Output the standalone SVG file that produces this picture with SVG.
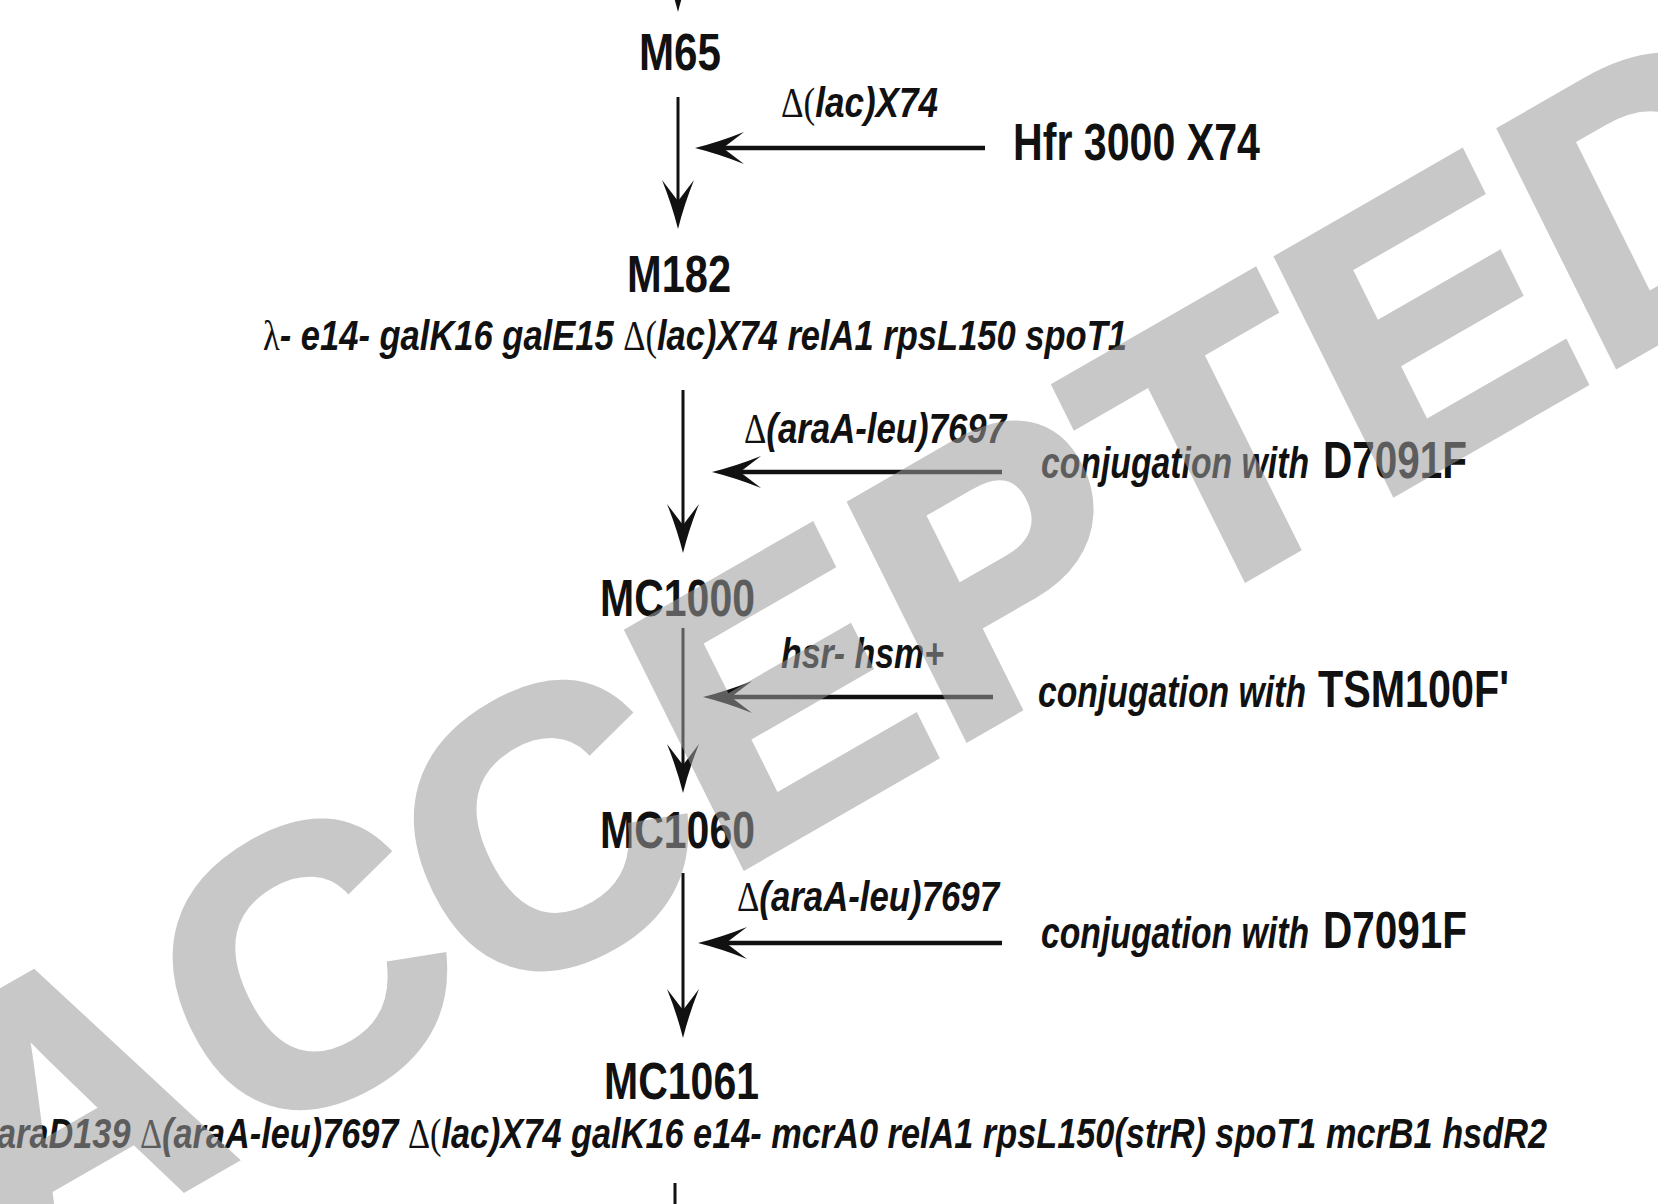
<svg xmlns="http://www.w3.org/2000/svg" width="1658" height="1204" viewBox="0 0 1658 1204">
<style>
.t{font-family:"Liberation Sans",Arial,sans-serif;font-weight:bold;fill:#111}
.i{font-style:italic}
.big{font-size:51px}
.lab{font-size:42px}
.conj{font-size:44px}
.sym{font-family:"Liberation Serif","Times New Roman",serif;font-style:normal;font-weight:normal}
.v{stroke:#111;stroke-width:3;fill:none}
.h{stroke:#111;stroke-width:4.3;fill:none}
.wm{font-family:"Liberation Sans",Arial,sans-serif;font-weight:bold;font-size:100px;fill:#9c9c9c;stroke:#9c9c9c;stroke-width:2.6;stroke-linejoin:miter;opacity:0.55}
</style>
<defs>
<marker id="ah" viewBox="-55 -20 60 40" refX="-28" refY="0" markerWidth="60" markerHeight="40" markerUnits="userSpaceOnUse" orient="auto" overflow="visible">
<path d="M0,0 Q-24,-6 -49,-16 L-28,0 L-49,16 Q-24,6 0,0 Z" fill="#111"/>
</marker>
</defs>
<rect width="1658" height="1204" fill="#fff"/>

<g id="connectors">
<line class="v" x1="678" y1="-60" x2="678" y2="-16" marker-end="url(#ah)"/>
<line class="v" x1="678" y1="97" x2="678" y2="201" marker-end="url(#ah)"/>
<line class="h" x1="985" y1="148" x2="723" y2="148" marker-end="url(#ah)"/>
<line class="v" x1="683" y1="390" x2="683" y2="525" marker-end="url(#ah)"/>
<line class="h" x1="1002" y1="472" x2="740" y2="472" marker-end="url(#ah)"/>
<line class="v" x1="683" y1="628" x2="683" y2="765" marker-end="url(#ah)"/>
<line class="h" x1="993" y1="697" x2="731" y2="697" marker-end="url(#ah)"/>
<line class="v" x1="683" y1="873" x2="683" y2="1010" marker-end="url(#ah)"/>
<line class="h" x1="1002" y1="943" x2="726" y2="943" marker-end="url(#ah)"/>
<line class="v" x1="675" y1="1183" x2="675" y2="1210"/>
</g>

<g id="edge-labels">
<text class="t i lab" x="781" y="117" textLength="157" lengthAdjust="spacingAndGlyphs"><tspan class="sym">Δ(</tspan>lac)X74</text>
<text class="t i lab" x="744" y="443" textLength="262" lengthAdjust="spacingAndGlyphs"><tspan class="sym">Δ</tspan>(araA-leu)7697</text>
<text class="t i lab" x="781" y="668" textLength="163" lengthAdjust="spacingAndGlyphs">hsr- hsm+</text>
<text class="t i lab" x="737" y="911" textLength="262" lengthAdjust="spacingAndGlyphs"><tspan class="sym">Δ</tspan>(araA-leu)7697</text>
</g>

<g id="node-M65">
<text class="t big" x="639" y="70" textLength="82" lengthAdjust="spacingAndGlyphs">M65</text>
</g>
<g id="node-Hfr3000X74">
<text class="t big" x="1013" y="160" textLength="247" lengthAdjust="spacingAndGlyphs">Hfr 3000 X74</text>
</g>
<g id="node-M182">
<text class="t big" x="627" y="292" textLength="104" lengthAdjust="spacingAndGlyphs">M182</text>
<text class="t i lab" x="263" y="350" textLength="864" lengthAdjust="spacingAndGlyphs"><tspan class="sym">λ</tspan>- e14- galK16 galE15 <tspan class="sym">Δ(</tspan>lac)X74 relA1 rpsL150 spoT1</text>
</g>
<g id="node-D7091F-1">
<text class="t i conj" x="1041" y="478" textLength="268" lengthAdjust="spacingAndGlyphs">conjugation with</text>
<text class="t big" x="1323" y="478" textLength="144" lengthAdjust="spacingAndGlyphs">D7091F</text>
</g>
<g id="node-MC1000">
<text class="t big" x="600" y="616" textLength="155" lengthAdjust="spacingAndGlyphs">MC1000</text>
</g>
<g id="node-TSM100F">
<text class="t i conj" x="1038" y="707" textLength="268" lengthAdjust="spacingAndGlyphs">conjugation with</text>
<text class="t big" x="1318" y="707" textLength="191" lengthAdjust="spacingAndGlyphs">TSM100F'</text>
</g>
<g id="node-MC1060">
<text class="t big" x="600" y="848" textLength="155" lengthAdjust="spacingAndGlyphs">MC1060</text>
</g>
<g id="node-D7091F-2">
<text class="t i conj" x="1041" y="948" textLength="268" lengthAdjust="spacingAndGlyphs">conjugation with</text>
<text class="t big" x="1323" y="948" textLength="144" lengthAdjust="spacingAndGlyphs">D7091F</text>
</g>
<g id="node-MC1061">
<text class="t big" x="604" y="1099" textLength="155" lengthAdjust="spacingAndGlyphs">MC1061</text>
<text class="t i lab" x="-3" y="1148" textLength="1550" lengthAdjust="spacingAndGlyphs">araD139 <tspan class="sym">Δ</tspan>(araA-leu)7697 <tspan class="sym">Δ(</tspan>lac)X74 galK16 e14- mcrA0 relA1 rpsL150(strR) spoT1 mcrB1 hsdR2</text>
</g>

<g id="watermark">
<text class="wm" transform="matrix(3.34,-1.92,1.68,3.38,0,1293)" x="0" y="0">ACCEPTED</text>
</g>
</svg>
